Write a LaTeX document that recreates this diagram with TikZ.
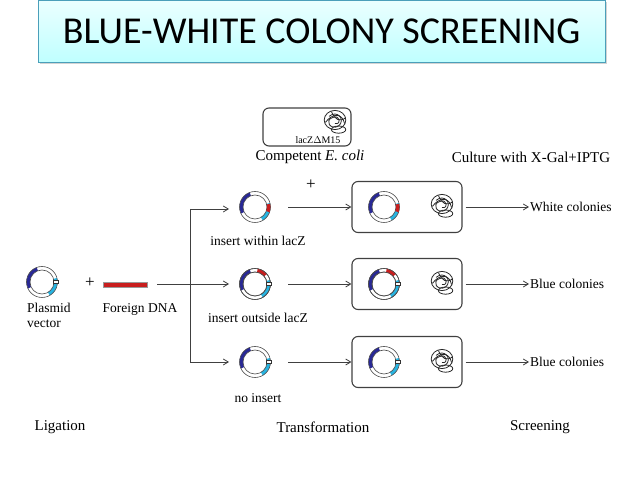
\documentclass[tikz,border=0pt]{standalone}
\usepackage{fontspec}
\setmainfont{Liberation Serif}
\newfontfamily\titlefont{Carlito}
\usetikzlibrary{arrows.meta,shadows}
\definecolor{dblue}{RGB}{40,40,150}
\definecolor{lblue}{RGB}{40,180,225}
\definecolor{ired}{RGB}{200,30,30}
\tikzset{
  x=1pt,y=-1pt,
  lbl/.style={font=\fontsize{13.5}{15}\selectfont},
  hdr/.style={font=\fontsize{15}{17}\selectfont},
  conn/.style={draw=black!75,line width=0.8pt,-{Straight Barb[length=5pt,width=6pt]}},
  cellbox/.style={draw=black!75,line width=1.1pt,rounded corners=6pt},
  ring/.pic={\begin{scope}[yscale=-1]
    \fill[lblue] (-60:15.5) arc[start angle=-60,end angle=15,radius=15.5] -- (15:12) arc[start angle=15,end angle=-60,radius=12] -- cycle;
    \fill[dblue] (110:15.5) arc[start angle=110,end angle=205,radius=15.5] -- (205:12) arc[start angle=205,end angle=110,radius=12] -- cycle;
    \draw[black!70,line width=0.6pt] (0,0) circle[radius=15.5] (0,0) circle[radius=12];
  \end{scope}},
  mark/.pic={\draw[black!80,fill=white,line width=0.5pt] (11.5,-1.5) rectangle (16,1.5);},
  insin/.pic={\begin{scope}[yscale=-1]\fill[ired] (-20:15.5) arc[start angle=-20,end angle=12,radius=15.5] -- (12:12) arc[start angle=12,end angle=-20,radius=12] -- cycle;\end{scope}},
  insout/.pic={\begin{scope}[yscale=-1]\fill[ired] (40:15.5) arc[start angle=40,end angle=80,radius=15.5] -- (80:12) arc[start angle=80,end angle=40,radius=12] -- cycle;
               \draw[black!70,line width=0.6pt] (0,0) circle[radius=15.5] (0,0) circle[radius=12];\end{scope}},
  cell/.pic={\begin{scope}[scale=1.2]
    \draw[black!85,line width=0.8pt] (0,0) ellipse[x radius=9,y radius=8];
    \draw[black!85,line width=0.8pt] (-5,-3) .. controls (2,-9) and (9,0) .. (3,5) .. controls (-4,9) and (-9,0) .. (-2,-2) .. controls (4,-5) and (6,4) .. (0,3);
    \draw[black!85,line width=0.8pt] (-8,2) .. controls (-2,-6) and (6,-6) .. (8,3);
    \draw[black!85,line width=0.8pt] (-3,-7) .. controls (0,0) and (4,2) .. (9,-2);
    \draw[black!85,line width=0.8pt] (3,8) ellipse[x radius=6,y radius=3];
  \end{scope}}
}
\begin{document}
\begin{tikzpicture}
\useasboundingbox (0,0) rectangle (638,478);
% title
\node[draw=lblue!60!gray,line width=0.4pt,top color=cyan!8,bottom color=cyan!25,drop shadow={opacity=0.35,shadow xshift=1.5pt,shadow yshift=-2pt},
  minimum width=567,minimum height=62,inner sep=0pt,anchor=north west,font=\titlefont\fontsize{38}{40}\selectfont] (title) at (38,0) {BLUE-WHITE COLONY SCREENING};
% plasmid and foreign DNA
\pic at (42,282) {ring}; \pic at (42,282) {mark};
\node[font=\fontsize{17}{17}\selectfont] (plus1) at (90,283) {+};
\node[fill=ired,draw=black!40,line width=0.3pt,minimum width=44,minimum height=5,inner sep=0pt] (dna) at (125,285) {};
\node[lbl,align=left,anchor=north west,inner sep=0pt] (pv) at (27,303) {Plasmid\\vector};
\node[lbl,anchor=north,inner sep=0pt] (fd) at (140,303) {Foreign DNA};
\coordinate (split) at (190,284);
\coordinate (top) at (190,209);
\coordinate (bot) at (190,362);
\coordinate (a1) at (229,209);
\coordinate (a2) at (229,284);
\coordinate (a3) at (229,362);
\draw[black!75,line width=0.8pt] (157,284) -- (split);
\draw[black!75,line width=0.8pt] (top) -- (bot);
\draw[conn] (split) -- (a2);
\draw[conn] (top) -- (a1);
\draw[conn] (bot) -- (a3);
% transformed plasmids
\pic at (255,207) {ring}; \pic at (255,207) {insin};
\pic at (255,284) {ring}; \pic at (255,284) {insout}; \pic at (255,284) {mark};
\pic at (255,362) {ring}; \pic at (255,362) {mark};
\node[lbl] (l1) at (258,241) {insert within lacZ};
\node[lbl] (l2) at (258,318) {insert outside lacZ};
\node[lbl] (l3) at (258,398) {no insert};
\node[font=\fontsize{17}{17}\selectfont] (plus2) at (311,185) {+};
% competent cell
\node[cellbox,minimum width=88,minimum height=38,inner sep=0pt] (comp) at (307,127) {};
\pic at (335,120) {cell};
\node[font=\fontsize{10}{11}\selectfont,inner sep=0pt] (lz) at (318,140) {lacZ$\Delta$M15};
\node[hdr] (ce) at (310,157) {Competent \textit{E. coli}};
\node[hdr] (cx) at (531,157) {Culture with X-Gal+IPTG};
% boxes
\foreach \y/\n/\t in {207/1/White colonies,284/2/Blue colonies,362/3/Blue colonies}{
  \node[cellbox,minimum width=110,minimum height=51,inner sep=0pt] (b\n) at (407,\y) {};
  \coordinate (s\n) at (288,\y);
  \draw[conn] (s\n) -- (b\n.west);
  \node[lbl,anchor=west,inner sep=1pt] (r\n) at (529,\y) {\t};
  \draw[conn] (b\n.east) ++(3,0) -- (r\n.west);
  \pic at (442,\y-3) {cell};
}
\pic at (384,207) {ring}; \pic at (384,207) {insin};
\pic at (384,284) {ring}; \pic at (384,284) {insout}; \pic at (384,284) {mark};
\pic at (384,362) {ring}; \pic at (384,362) {mark};
% stage labels
\node[hdr] (g1) at (60,427) {Ligation};
\node[hdr] (g2) at (323,427) {Transformation};
\node[hdr] (g3) at (540,427) {Screening};
\end{tikzpicture}
\end{document}
